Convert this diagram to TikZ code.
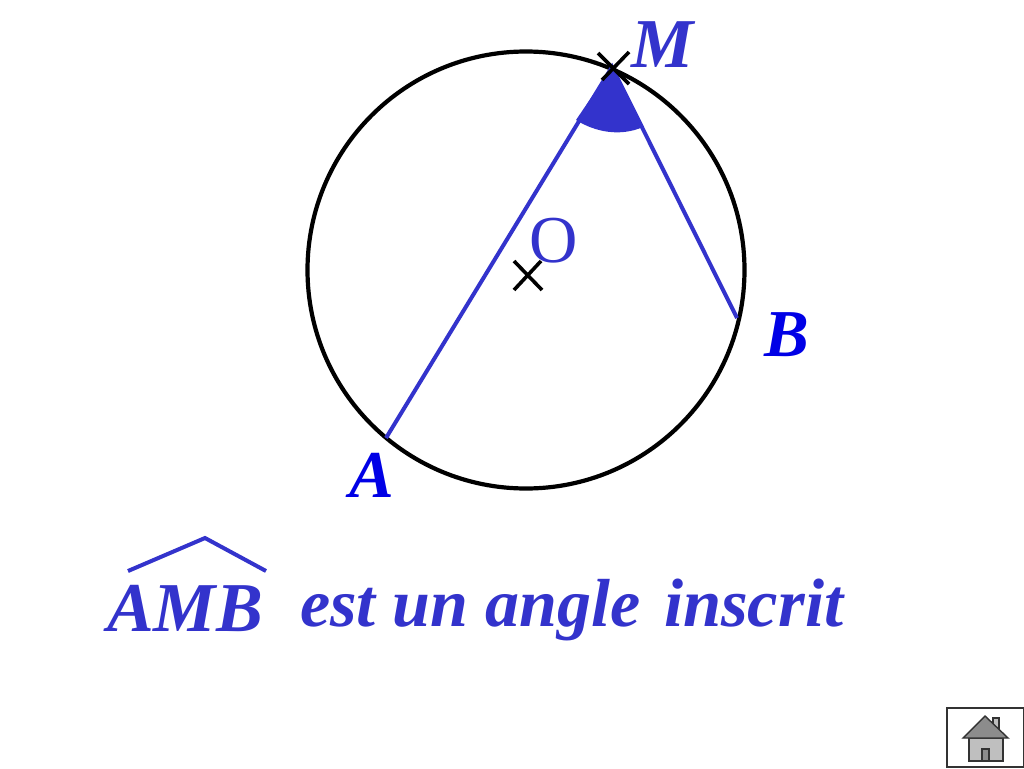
\documentclass[tikz,border=0pt]{standalone}
\usepackage{fontspec}
\setmainfont{Liberation Serif}
\definecolor{lineblue}{RGB}{51,51,204}
\definecolor{labelblue}{RGB}{0,0,230}
\tikzset{
  crossline/.style={draw=black,line width=3.6pt},
  chord/.style={draw=lineblue,line width=4pt},
  lab/.style={inner sep=0pt,anchor=base west,font=\bfseries\itshape\fontsize{67}{67}\selectfont},
  homeline/.style={draw=black!80,line width=1.4pt}
}
\begin{document}
\begin{tikzpicture}[x=1pt,y=-1pt]
\useasboundingbox (0,0) rectangle (1024,768);
\fill[white] (0,0) rectangle (1024,768);
% key points
\coordinate (O) at (526,270);
\coordinate (M) at (612,67);
\coordinate (A) at (386,438);
\coordinate (B) at (737,318);
% circle
\draw[black,line width=4.2pt] (O) circle[radius=218.5pt];
% chords
\draw[chord] (A) -- (M) -- (B);
% angle wedge
\fill[lineblue] (M) -- (576,120) .. controls (595,132) and (620,137) .. (643,127) -- cycle;
% crosses
\draw[crossline] (598,53) -- (629,84) (629,52) -- (602,80);
\draw[crossline] (514,261) -- (542,290) (541,261) -- (514,290);
% labels
\node[lab,text=lineblue,font=\bfseries\itshape\fontsize{70}{70}\selectfont] (lM) at (631,67) {M};
\node[lab,text=labelblue] (lB) at (764,356) {B};
\node[lab,text=labelblue] (lA) at (349,497) {A};
\node[inner sep=0pt,anchor=base west,text=lineblue,font=\fontsize{67}{67}\selectfont] (lO) at (529,262) {O};
\node[lab,text=lineblue,font=\bfseries\itshape\fontsize{70}{70}\selectfont] (lAMB) at (107,631) {AMB};
\node[lab,text=lineblue,font=\bfseries\itshape\fontsize{68}{68}\selectfont] (lE) at (300,626) {est un angle};
\node[lab,text=lineblue,font=\bfseries\itshape\fontsize{68.5}{68.5}\selectfont] (lI) at (664,626) {inscrit};
% hat
\coordinate (h1) at (128,571);
\coordinate (h2) at (205,538);
\coordinate (h3) at (266,571);
\draw[draw=lineblue,line width=4pt] (h1) -- (h2) -- (h3);
% home button
\draw[draw=black!80,fill=white,line width=1.4pt] (947,708) rectangle (1024,767);
\draw[homeline,fill=black!25] (969,738) rectangle (1003,761);
\draw[homeline,fill=black!45] (982,749) rectangle (989,761);
\draw[homeline,fill=black!25] (993,718) rectangle (999,735);
\draw[homeline,fill=black!45] (963,738) -- (985,716) -- (1008,738) -- cycle;
\end{tikzpicture}
\end{document}
